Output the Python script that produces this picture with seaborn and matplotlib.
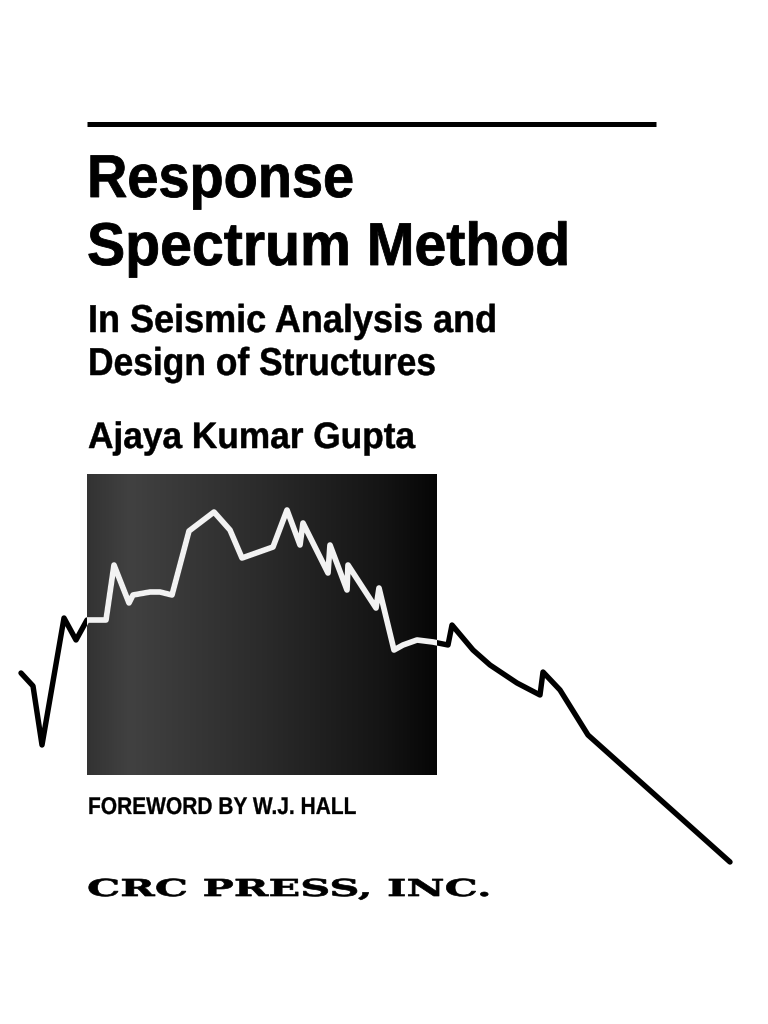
import numpy as np
import pandas as pd
import seaborn as sns
import matplotlib.pyplot as plt
from matplotlib.colors import LinearSegmentedColormap
from matplotlib.patches import Rectangle
from matplotlib.patheffects import AbstractPathEffect
from matplotlib.transforms import Affine2D

# spectrum curve, traced in cover coordinates (x to the right, y downward)
period = [21, 33, 42, 64, 76, 87, 106, 114, 129, 133, 150, 160, 172, 189, 214,
          230, 242, 273, 287, 300, 303, 328, 330, 347, 348, 376, 379, 394, 403,
          417, 433, 448, 452, 473, 490, 517, 540, 543, 560, 588, 730]
accel = [673, 686, 745, 618, 640, 620, 620, 565, 603, 595, 592, 592, 595, 531, 512,
         530, 558, 547, 510, 545, 523, 573, 545, 590, 565, 608, 588, 650, 645,
         640, 642, 645, 625, 650, 665, 683, 695, 672, 690, 735, 862]

title_lines = ["Response", "Spectrum Method"]
subtitle_lines = ["In Seismic Analysis and", "Design of Structures"]
author = "Ajaya Kumar Gupta"
foreword = "FOREWORD BY W.J. HALL"
publisher = "CRC PRESS, INC."

df = pd.DataFrame({"period": period, "accel": accel})


class Stretch(AbstractPathEffect):
    """Scale glyphs horizontally about the text anchor and embolden them a little."""

    def __init__(self, x0, sx=1.0, bold=0.0):
        super().__init__()
        self.x0 = x0
        self.sx = sx
        self.bold = bold

    def draw_path(self, renderer, gc, tpath, affine, rgbFace=None):
        t = affine + Affine2D().translate(-self.x0, 0).scale(self.sx, 1).translate(self.x0, 0)
        gc0 = renderer.new_gc()
        gc0.copy_properties(gc)
        if self.bold > 0:
            gc0.set_linewidth(self.bold)
            gc0.set_foreground(rgbFace)
            gc0.set_joinstyle("round")
        renderer.draw_path(gc0, tpath, t, rgbFace)
        gc0.restore()


sns.set_style("white")
plt.rcParams["font.family"] = ["Liberation Sans", "DejaVu Sans"]

fig = plt.figure(figsize=(7.68, 10.24), dpi=100)
ax = fig.add_axes([0, 0, 1, 1])
ax.set_xlim(0, 768)
ax.set_ylim(1024, 0)
ax.axis("off")

# top rule
ax.plot([87, 656], [123.5, 123.5], color="black", lw=3.6, solid_capstyle="butt")

# dark gradient panel
box = (87, 437, 474, 775)
cmap = LinearSegmentedColormap.from_list(
    "panel", [(0, "#333333"), (0.12, "#414141"), (0.5, "#2b2b2b"), (0.85, "#141414"), (1, "#060606")])
grad = np.linspace(0, 1, 256).reshape(1, -1)
ax.imshow(grad, cmap=cmap, extent=[box[0], box[1], box[3], box[2]], aspect="auto", zorder=1)

# curve: black outside the panel, white inside
sns.lineplot(data=df, x="period", y="accel", sort=False, color="black", lw=3.9,
             ax=ax, zorder=2)
white = sns.lineplot(data=df, x="period", y="accel", sort=False, color="#f2f2f2",
                     lw=4.1, ax=ax, zorder=3)
clip = Rectangle((box[0], box[2]), box[1] - box[0], box[3] - box[2], transform=ax.transData)
white.lines[-1].set_clip_path(clip)
ax.set_xlim(0, 768)
ax.set_ylim(1024, 0)
ax.set_xlabel("")
ax.set_ylabel("")

# text blocks: (text, x, baseline, size, family, right edge of the ink, extra weight)
blocks = [
    (title_lines[0], 87, 197, 43.5, "Liberation Sans", 354, 0.6),
    (title_lines[1], 87, 265, 43.5, "Liberation Sans", 570, 0.6),
    (subtitle_lines[0], 88, 332, 28, "Liberation Sans", 497, 0.35),
    (subtitle_lines[1], 88, 375, 28, "Liberation Sans", 436, 0.35),
    (author, 88, 448, 26.5, "Liberation Sans", 415, 0.35),
    (foreword, 88, 814, 17.4, "Liberation Sans", 356, 0.2),
    (publisher, 87, 896, 16.8, "DejaVu Serif", 492, 0.5),
]

fig.canvas.draw()
renderer = fig.canvas.get_renderer()
for txt, x, y, size, fam, right, extra in blocks:
    t = ax.text(x, y, txt, fontsize=size, fontweight="bold", va="baseline", ha="left",
                color="black", family=fam)
    bb = t.get_window_extent(renderer)
    x0 = ax.transData.transform((x, y))[0]
    sx = (right - x) / bb.width
    t.set_path_effects([Stretch(x0, sx, extra)])

fig.savefig("out.png", dpi=100, facecolor="white")
